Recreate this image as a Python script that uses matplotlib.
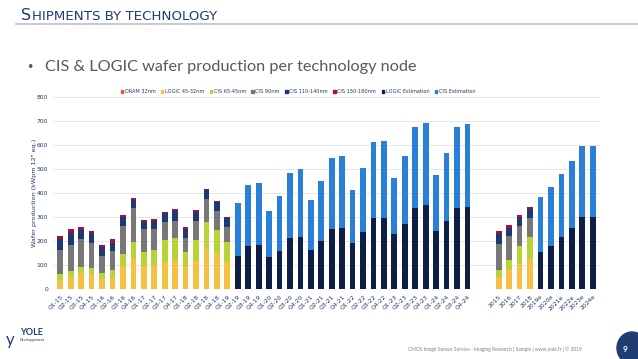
import matplotlib.pyplot as plt
import matplotlib.patches as mpatches
import numpy as np

# Quarterly categories
quarters = ["Q1-15", "Q2-15", "Q3-15", "Q4-15", "Q1-16", "Q2-16", "Q3-16", "Q4-16",
            "Q1-17", "Q2-17", "Q3-17", "Q4-17", "Q1-18", "Q2-18", "Q3-18", "Q4-18",
            "Q1-19", "Q2-19", "Q3-19", "Q4-19", "Q1-20", "Q2-20", "Q3-20", "Q4-20",
            "Q1-21", "Q2-21", "Q3-21", "Q4-21", "Q1-22", "Q2-22", "Q3-22", "Q4-22",
            "Q1-23", "Q2-23", "Q3-23", "Q4-23", "Q1-24", "Q2-24", "Q3-24", "Q4-24"]
years = ["2015", "2016", "2017", "2018", "2019e", "2020e", "2021e", "2022e", "2023e", "2024e"]

# Actual data per node (Q1-15 .. Q1-19, then 2015 .. 2018), kWpm 12" eq.
logic_45_32 = [39, 50, 67, 64, 44, 53, 97, 132, 97, 100, 115, 120, 92, 118, 169, 150, 115,
               53, 81, 104, 129]
cis_65_45 = [25, 26, 27, 26, 23, 28, 52, 67, 60, 64, 90, 95, 62, 88, 113, 97, 81,
             28, 41, 78, 90]
cis_90 = [99, 110, 117, 104, 70, 79, 115, 139, 93, 86, 75, 69, 61, 78, 96, 79, 65,
          107, 100, 82, 78]
cis_110_140 = [47, 50, 36, 39, 38, 34, 36, 34, 32, 36, 37, 44, 37, 38, 36, 38, 35,
               41, 35, 35, 38]
cis_150_180 = [12, 14, 14, 11, 11, 14, 10, 10, 7, 7, 7, 6, 6, 8, 4, 5, 4,
               14, 12, 9, 7]

# Estimations (Q2-19 .. Q4-24, then 2019e .. 2024e)
logic_est = [139, 179, 185, 135, 161, 213, 219, 162, 201, 253, 256, 194, 240, 299, 299,
             230, 274, 340, 350, 244, 285, 340, 344,
             154, 182, 217, 257, 300, 300]
est_total = [358, 435, 444, 326, 388, 485, 503, 372, 451, 546, 554, 414, 507, 612, 617,
             465, 556, 678, 694, 477, 566, 678, 688,
             383, 425, 479, 536, 599, 599]

colors = {
    "DRAM 32nm": "#E4572E",
    "LOGIC 45-32nm": "#F4C145",
    "CIS 65-45nm": "#B8D238",
    "CIS 90nm": "#777777",
    "CIS 110-140nm": "#1B3A73",
    "CIS 150-180nm": "#A3123E",
    "LOGIC Estimation": "#0E1E45",
    "CIS Estimation": "#2A7FD9",
}

labels = quarters + ["", ""] + years
x_all = np.arange(len(labels))
x_q = x_all[:40]
x_y = x_all[42:]
x_act = np.concatenate([x_q[:17], x_y[:4]])
x_est = np.concatenate([x_q[17:], x_y[4:]])

fig = plt.figure(figsize=(6.38, 3.59), dpi=100)
W, H = 638, 359
ax = fig.add_axes([53 / W, 1 - 289.3 / H, (600 - 53) / W, (289.3 - 97.3) / H])

w = 0.55
bottom = np.zeros(len(x_act))
for name, vals in [("LOGIC 45-32nm", logic_45_32), ("CIS 65-45nm", cis_65_45),
                   ("CIS 90nm", cis_90), ("CIS 110-140nm", cis_110_140),
                   ("CIS 150-180nm", cis_150_180)]:
    ax.bar(x_act, vals, w, bottom=bottom, color=colors[name], label=name, zorder=3)
    bottom += np.array(vals)

logic_est = np.array(logic_est)
cis_est = np.array(est_total) - logic_est
ax.bar(x_est, logic_est, w, color=colors["LOGIC Estimation"], label="LOGIC Estimation", zorder=3)
ax.bar(x_est, cis_est, w, bottom=logic_est, color=colors["CIS Estimation"], label="CIS Estimation", zorder=3)

ax.set_ylim(0, 800)
ax.set_xlim(-0.7, len(labels) - 0.3)
ax.set_yticks(np.arange(0, 801, 100))
ax.yaxis.grid(True, color="#E3E3E3", linewidth=0.6, zorder=0)
for s in ax.spines.values():
    s.set_visible(False)
ax.tick_params(axis="both", length=0, labelsize=4.3, colors="#1F3864")
ax.tick_params(axis="y", pad=3.6)
ax.set_xticks(x_all)
ax.set_xticklabels(labels, rotation=45, ha="right", rotation_mode="anchor")
ax.set_ylabel('Wafer production (kWpm 12" eq.)', fontsize=4.6, color="#1F3864", labelpad=-0.5)

# legend in the original order (DRAM has no visible data)
order = ["DRAM 32nm", "LOGIC 45-32nm", "CIS 65-45nm", "CIS 90nm", "CIS 110-140nm",
         "CIS 150-180nm", "LOGIC Estimation", "CIS Estimation"]
handles = [mpatches.Patch(color=colors[n], label=n) for n in order]
ax.legend(handles=handles, loc="center", bbox_to_anchor=(0.448, 1.03), ncol=8,
          frameon=False, fontsize=3.6, handlelength=0.5, handleheight=0.5,
          handletextpad=0.3, columnspacing=1.1, labelcolor="#1F3864")

# slide decorations
fig.text(21 / W, 1 - 20.5 / H, "S", fontsize=11.5, color="#1F3C73", family="DejaVu Sans", va="baseline")
fig.text(31.5 / W, 1 - 20.5 / H, "HIPMENTS BY TECHNOLOGY", fontsize=9.6, color="#1F3C73",
         family="DejaVu Sans", va="baseline")
fig.add_artist(plt.Line2D([16 / W, 1], [1 - 24 / H, 1 - 24 / H], color="#BFBFBF", linewidth=1.2))
fig.text(26 / W, 1 - 67 / H, "\u2022", fontsize=9, color="#595959", va="center")
fig.text(45 / W, 1 - 67 / H, "CIS & LOGIC wafer production per technology node",
         fontsize=11.7, color="#595959", family="Lato", va="center")

fig.text(20 / W, 1 - 335 / H, "YOLE", fontsize=6.5, color="#1F3C73", weight="bold", family="Lato")
fig.text(20 / W, 1 - 341 / H, "Développement", fontsize=2.5, color="#1F3C73", family="Lato")
fig.text(6 / W, 1 - 345 / H, "y", fontsize=12, color="#1F3C73", family="Lato")
fig.text(582 / W, 1 - 349 / H,
         "CMOS Image Sensor Service - Imaging Research | Sample | www.yole.fr | \u00a9 2019",
         fontsize=3.5, color="#7F7F7F", ha="right", va="center", family="Lato")
fig.add_artist(mpatches.Ellipse((632 / W, 1 - 348 / H), 30 / W, 32 / H,
                                color="#1F3C73", transform=fig.transFigure))
fig.text(625 / W, 1 - 349 / H, "9", fontsize=6, color="white", ha="center", va="center",
         weight="bold", family="Lato")

fig.savefig("out.png", dpi=100)
